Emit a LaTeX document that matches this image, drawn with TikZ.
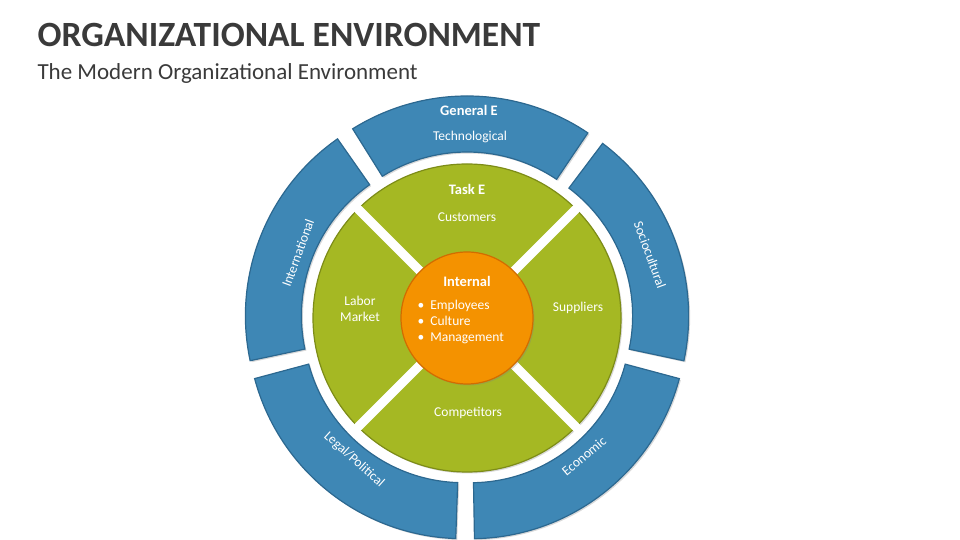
\documentclass[tikz,border=0pt]{standalone}
\usepackage{fontspec}
\setmainfont{Carlito}
\usetikzlibrary{shadows}
\definecolor{segblue}{HTML}{3E87B5}
\definecolor{segblueD}{HTML}{2C6890}
\definecolor{grn}{HTML}{A5B823}
\definecolor{grnD}{HTML}{7D8C17}
\definecolor{org}{HTML}{F49200}
\definecolor{orgD}{HTML}{D26C00}
\definecolor{titlec}{HTML}{3A3A3A}
\tikzset{
  seg/.style={fill=segblue,draw=segblueD,line width=1.2pt,drop shadow={opacity=0.3,shadow xshift=1.5pt,shadow yshift=-1.5pt}},
  wlab/.style={text=white,font=\fontsize{13.5}{16}\selectfont,align=center},
  wbold/.style={text=white,font=\bfseries\fontsize{14.5}{17}\selectfont}
}
\begin{document}
\begin{tikzpicture}[x=1pt,y=1pt]
\useasboundingbox (0,0) rectangle (960,540);
\node[anchor=west,text=titlec,font=\bfseries\fontsize{35.5}{38}\selectfont] (title) at (34,505) {ORGANIZATIONAL ENVIRONMENT};
\node[anchor=west,text=titlec,font=\fontsize{23}{26}\selectfont] (sub) at (34,467) {The Modern Organizational Environment};
\begin{scope}[shift={(467,222)}]
\def\ri{160}\def\ro{216}
\foreach \a/\b in {56/122, 125/192, 195/268, 271/345, 348/413}{
  \pgfmathsetmacro{\m}{(\a+\b)/2}
  \begin{scope}[shift={(\m:6)}]
  \path[seg] (\a:\ri) arc[start angle=\a,end angle=\b,radius=\ri] -- (\b:\ro) arc[start angle=\b,end angle=\a,radius=\ro] -- cycle;
  \end{scope}
}
\node[circle,minimum size=308pt,fill=grn,draw=grnD,line width=1.2pt,drop shadow={opacity=0.3,shadow xshift=1.5pt,shadow yshift=-1.5pt}] (task) at (0,0) {};
\foreach \a in {45,135,225,315}{
  \draw[white,line width=9pt] (\a:60) -- (\a:160);
}
\node[circle,minimum size=132pt,fill=org,draw=orgD,line width=1.2pt,drop shadow={opacity=0.3,shadow xshift=1.5pt,shadow yshift=-1.5pt}] (int) at (0,0) {};
\node[wbold] (ge) at (2,208) {General E};
\node[wlab] (tech) at (3,181) {Technological};
\node[wbold] (te) at (0,129) {Task E};
\node[wlab] (cust) at (0,101) {Customers};
\node[wlab] (labor) at (-107,9) {Labor\\Market};
\node[wlab] (supp) at (111,10) {Suppliers};
\node[wlab] (comp) at (1,-95) {Competitors};
\node[wbold] (intl) at (0,37) {Internal};
\node[wlab,align=left,anchor=west] (bul) at (-53,-4) {\textbullet\ \ Employees\\[0pt]\textbullet\ \ Culture\\[0pt]\textbullet\ \ Management};
\node[wlab,rotate=70] (intn) at (-169,65) {International};
\node[wlab,rotate=-70] (soc) at (183,63) {Sociocultural};
\node[wlab,rotate=-42] (leg) at (-113,-142) {Legal/Political};
\node[wlab,rotate=40] (eco) at (117,-138) {Economic};
\end{scope}
\end{tikzpicture}
\end{document}
